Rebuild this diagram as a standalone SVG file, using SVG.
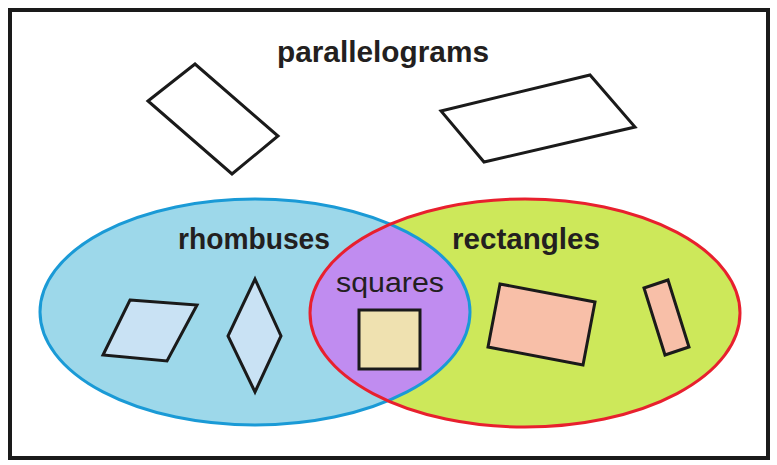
<svg xmlns="http://www.w3.org/2000/svg" width="777" height="465" viewBox="0 0 777 465">
<style>
.s{stroke:#1a1a1a;stroke-width:3;stroke-linejoin:miter}
.t{font-family:"Liberation Sans",Arial,sans-serif;fill:#231f20}
.b{font-weight:bold;font-size:29px}
</style>
<defs><clipPath id="cb"><ellipse cx="255" cy="312" rx="215" ry="113"/></clipPath></defs>
<rect x="0" y="0" width="777" height="465" fill="#fff"/>
<rect x="10" y="10" width="758" height="448" fill="#fff" stroke="#1a1a1a" stroke-width="4"/>
<g id="sets">
<ellipse cx="255" cy="312" rx="215" ry="113" fill="#9dd8ea"/>
<ellipse cx="525" cy="313" rx="215" ry="114" fill="#cde85a"/>
<ellipse cx="525" cy="313" rx="215" ry="114" fill="#c08cf0" clip-path="url(#cb)"/>
<ellipse cx="255" cy="312" rx="215" ry="113" fill="none" stroke="#1a9ad6" stroke-width="3"/>
<ellipse cx="525" cy="313" rx="215" ry="114" fill="none" stroke="#e8202e" stroke-width="3"/>
</g>
<g id="labels">
<text class="t b" x="383" y="62" text-anchor="middle" textLength="212" lengthAdjust="spacingAndGlyphs">parallelograms</text>
<text class="t b" x="254" y="249" text-anchor="middle" textLength="152" lengthAdjust="spacingAndGlyphs">rhombuses</text>
<text class="t b" x="526" y="249" text-anchor="middle" textLength="148" lengthAdjust="spacingAndGlyphs">rectangles</text>
<text class="t" x="390" y="292" font-size="27" text-anchor="middle" textLength="108" lengthAdjust="spacingAndGlyphs">squares</text>
</g>
<g id="shapes">
<polygon class="s" fill="#fff" points="148,101 195,64 278,136 232,174"/>
<polygon class="s" fill="#fff" points="441,111 590,75 635,127 484,162"/>
<polygon class="s" fill="#c9e2f4" points="130,300 197,305 167,361 103,355"/>
<polygon class="s" fill="#c9e2f4" points="255,279 281,336 255,392 228,336"/>
<rect class="s" fill="#efe1b0" x="359" y="310" width="61" height="59"/>
<polygon class="s" fill="#f8bfa8" points="500,284 595,302 583,365 488,347"/>
<polygon class="s" fill="#f8bfa8" points="644,288 668,280 689,347 665,355"/>
</g>
</svg>
